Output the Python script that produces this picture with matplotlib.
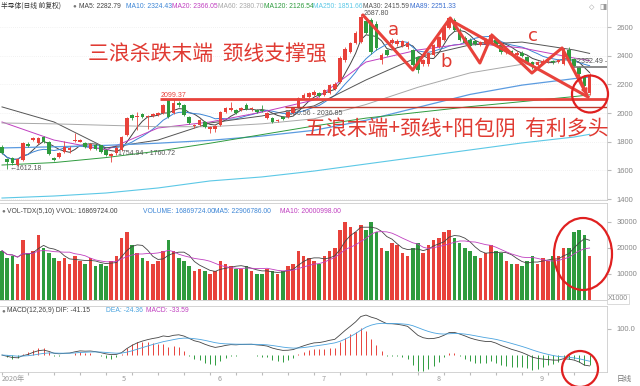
import matplotlib
matplotlib.use('Agg')
import matplotlib.pyplot as plt
from matplotlib.patches import Ellipse
import numpy as np
import pandas as pd

plt.rcParams['font.family'] = ['Liberation Sans', 'DejaVu Sans']
CJK = ['Noto Sans CJK SC', 'DejaVu Sans']

# daily candles, 2020-04 .. 2020-09
opens = [1764, 1680, 1687, 1640, 1673, 1785, 1812, 1791, 1833, 1798,
         1687, 1694, 1729, 1740, 1805, 1800, 1791, 1750, 1778, 1775,
         1743, 1700, 1720, 1740, 1847, 1987, 1970, 1994, 1973, 1980,
         1985, 2000, 2099, 2000, 2070, 2056, 1973, 1910, 1917, 1938,
         1889, 1890, 1917, 2007, 2021, 2021, 2021, 2056, 2025, 2021,
         2021, 1966, 1966, 1945, 1973, 1973, 2000, 2042, 2105, 2112,
         2126, 2140, 2126, 2140, 2165, 2217, 2370, 2426, 2488, 2495,
         2640, 2649, 2620, 2370, 2440, 2490, 2480, 2470, 2460, 2440,
         2390, 2340, 2340, 2405, 2460, 2509, 2593, 2649, 2580, 2525,
         2510, 2500, 2475, 2480, 2490, 2510, 2475, 2425, 2430, 2405,
         2420, 2390, 2355, 2335, 2345, 2360, 2365, 2358, 2340, 2440,
         2375, 2320, 2255, 2140]
closes = [1722, 1660, 1652, 1680, 1791, 1772, 1826, 1826, 1798, 1715,
          1673, 1722, 1764, 1760, 1810, 1812, 1764, 1785, 1750, 1729,
          1708, 1718, 1760, 1833, 1966, 1966, 1978, 1973, 1982, 1992,
          2000, 2056, 1973, 2070, 2056, 1987, 1931, 1917, 1952, 1903,
          1903, 1910, 2007, 2035, 2035, 2000, 2035, 2028, 2035, 2007,
          2018, 2000, 1938, 1955, 1960, 2007, 2035, 2105, 2126, 2140,
          2147, 2120, 2161, 2196, 2200, 2384, 2450, 2488, 2558, 2670,
          2560, 2426, 2454, 2405, 2405, 2509, 2505, 2500, 2490, 2335,
          2300, 2370, 2420, 2475, 2530, 2600, 2660, 2579, 2510, 2490,
          2470, 2485, 2495, 2510, 2545, 2475, 2425, 2435, 2415, 2420,
          2395, 2355, 2320, 2355, 2365, 2365, 2355, 2368, 2440, 2360,
          2330, 2270, 2190, 2262]
highs = [1775, 1690, 1695, 1688, 1800, 1795, 1835, 1832, 1840, 1805,
         1695, 1728, 1805, 1770, 1861, 1820, 1798, 1790, 1785, 1780,
         1750, 1725, 1768, 1840, 1975, 1995, 2010, 2000, 1990, 2000,
         2010, 2065, 2099, 2099, 2085, 2060, 1978, 1925, 1958, 1945,
         1910, 1915, 2012, 2040, 2077, 2028, 2042, 2070, 2042, 2030,
         2056, 2007, 1972, 1962, 1980, 2012, 2040, 2112, 2140, 2150,
         2160, 2150, 2170, 2205, 2215, 2395, 2460, 2495, 2570, 2688,
         2660, 2660, 2640, 2420, 2450, 2520, 2515, 2510, 2500, 2450,
         2395, 2380, 2425, 2480, 2540, 2610, 2670, 2660, 2590, 2535,
         2520, 2510, 2505, 2520, 2555, 2520, 2480, 2445, 2440, 2430,
         2430, 2398, 2360, 2365, 2375, 2375, 2372, 2380, 2455, 2460,
         2385, 2330, 2265, 2280]
lows = [1715, 1612, 1640, 1630, 1665, 1765, 1805, 1785, 1792, 1708,
        1665, 1688, 1722, 1720, 1798, 1795, 1760, 1745, 1745, 1725,
        1700, 1660, 1705, 1735, 1840, 1955, 1882, 1965, 1890, 1975,
        1978, 1995, 1965, 1995, 2045, 1980, 1925, 1895, 1910, 1898,
        1861, 1870, 1910, 2000, 2015, 1995, 2015, 2020, 2018, 2000,
        2010, 1960, 1932, 1940, 1955, 1968, 1995, 2035, 2098, 2105,
        2120, 2112, 2120, 2135, 2160, 2210, 2355, 2420, 2480, 2488,
        2550, 2415, 2440, 2340, 2395, 2480, 2470, 2460, 2450, 2325,
        2280, 2330, 2330, 2400, 2455, 2500, 2585, 2570, 2500, 2480,
        2460, 2475, 2465, 2470, 2485, 2465, 2415, 2415, 2405, 2395,
        2390, 2345, 2310, 2325, 2340, 2350, 2345, 2350, 2335, 2350,
        2320, 2260, 2175, 2125]
volumes = [19000, 16000, 17000, 14000, 23000, 18000, 19000, 25000, 20000, 18000,
           16000, 15000, 16000, 14000, 17000, 15000, 14000, 16000, 13000, 14000,
           13000, 15000, 17000, 24000, 26000, 21000, 18000, 16000, 15000, 14000,
           15000, 19000, 23000, 19000, 16000, 15000, 13000, 11000, 12000, 11000,
           10000, 11000, 15000, 14000, 13000, 12000, 12000, 13000, 11000, 10000,
           10000, 12000, 11000, 10000, 11000, 13000, 14000, 19000, 17000, 16000,
           15000, 14000, 17000, 19000, 20000, 27000, 30000, 28000, 26000, 29000,
           27000, 30000, 26000, 20000, 19000, 22000, 21000, 18000, 17000, 20000,
           22000, 18000, 21000, 23000, 24000, 26000, 27000, 24000, 22000, 20000,
           19000, 17000, 16000, 18000, 21000, 19000, 18000, 15000, 14000, 14000,
           13000, 15000, 17000, 14000, 16000, 15000, 17000, 17000, 20000, 20000,
           26000, 27000, 25000, 16870]

# longer moving averages, read every 10 bars
ma_idx = [0, 10, 20, 30, 40, 50, 60, 70, 80, 90, 100, 110, 113]
ma20 = [1938, 1812, 1743, 1896, 1938, 2007, 2091, 2356, 2440, 2488, 2454, 2384, 2366]
ma30 = [2043, 1938, 1757, 1812, 1931, 1980, 2050, 2231, 2391, 2475, 2495, 2440, 2416]
ma60 = [1931, 1925, 1915, 1905, 1905, 1925, 1960, 2060, 2180, 2280, 2340, 2375, 2381]
ma89 = [1757, 1765, 1775, 1790, 1810, 1840, 1880, 1950, 2040, 2130, 2195, 2240, 2251]
ma120 = [1638, 1655, 1690, 1735, 1790, 1850, 1910, 1965, 2005, 2045, 2080, 2115, 2127]
ma250 = [1408, 1422, 1443, 1478, 1527, 1555, 1596, 1645, 1694, 1743, 1792, 1833, 1852]

# hand drawn wave lines (bar index, price)
wave_idx = [69.4, 79.0, 86.2, 91.9, 94.2, 101.9, 107.7, 112.5]
wave_px = [2684, 2300, 2663, 2349, 2544, 2279, 2454, 2126]
trend_idx = [86.2, 112.7]
trend_px = [2649, 2112]

RED = '#e8423b'
GREEN = '#2e9b3e'
W, H = 640, 386


def fx(x):
    return x / W


def fy(y):
    return 1 - y / H


n = len(closes)
idx = np.arange(n)
o = np.array(opens, float)
c = np.array(closes, float)
up = c >= o
col = np.where(up, RED, GREEN)

fig = plt.figure(figsize=(6.4, 3.86), dpi=100)
xl = (-2 / 5.2, 605 / 5.2)

# ---------------- main price panel ----------------
ax = fig.add_axes([0, fy(200), fx(607), (200 - 0) / H])
ax.set_xlim(*xl)
ax.set_ylim(2788.2 - 6.97 * 200, 2788.2)
for yv in [1400, 1600, 1800, 2000, 2200, 2400, 2600]:
    ax.axhline(yv, color='#e6e6e6', lw=0.5, ls=(0, (1, 2)), zorder=0)

s = pd.Series(c)
ax.plot(idx, s.rolling(5, min_periods=1).mean(), color='#444444', lw=0.7)
ax.plot(idx, s.rolling(10, min_periods=1).mean(), color='#3d86d6', lw=0.7)
ax.plot(ma_idx, ma20, color='#c040c0', lw=0.7)
ax.plot(ma_idx, ma30, color='#555555', lw=0.7)
ax.plot(ma_idx, ma60, color='#a8a8a8', lw=0.7)
ax.plot(ma_idx, ma89, color='#5b9be0', lw=0.9)
ax.plot(ma_idx, ma120, color='#2e9b3e', lw=0.7)
ax.plot(ma_idx, ma250, color='#5cc8e6', lw=0.8)

ax.vlines(idx, lows, highs, colors=col, lw=0.6, zorder=3)
ax.bar(idx, np.maximum(np.abs(c - o), 3), bottom=np.minimum(o, c), width=0.68,
       color=col, zorder=4)

ax.hlines(2099.37, 30.4, xl[1], colors=RED, lw=2.0, zorder=5)
ax.hlines(2040, 54.5, xl[1], colors='#c0392b', lw=1.0, zorder=5)
ax.hlines(2322, 109.6, xl[1], colors='#777777', lw=1.2, zorder=5)
ax.plot(wave_idx, wave_px, color=RED, lw=2.2, zorder=6, solid_capstyle='round')
ax.plot(trend_idx, trend_px, color=RED, lw=2.2, zorder=6)
ax.annotate('', xy=(wave_idx[-1] + 0.2, wave_px[-1] - 20), xytext=(wave_idx[-2] + 3, wave_px[-2] - 170),
            arrowprops=dict(arrowstyle='-|>', color=RED, lw=1.5, mutation_scale=8), zorder=7)

ax.yaxis.tick_right()
ax.set_yticks([1400, 1600, 1800, 2000, 2200, 2400, 2600])
ax.tick_params(axis='y', labelsize=5.5, labelcolor='#888888', color='#bbbbbb', length=3, pad=4)
ax.set_xticks([])
for sp in ax.spines.values():
    sp.set_color('#cccccc')
    sp.set_linewidth(0.6)
ax.spines['top'].set_visible(False)
ax.spines['left'].set_visible(False)

ax.text(69.6, 2692, '2687.80', fontsize=5, color='#555555', va='center')
ax.text(30.5, 2125, '2099.37', fontsize=5, color=RED, va='center')
ax.text(1.5, 1612, '←1612.18', fontsize=5, color='#555555', va='center')
ax.text(22.3, 1720, '1754.94 - 1760.72', fontsize=5, color='#555555', va='center')
ax.text(54.5, 2000, '2030.56 - 2036.85', fontsize=5, color='#555555', va='center')
ax.text(110.5, 2360, '2392.49 -', fontsize=5, color='#555555', va='center', zorder=8)

# ---------------- volume panel ----------------
axv = fig.add_axes([0, fy(300), fx(607), (300 - 203) / H])
axv.set_xlim(*xl)
axv.set_ylim(0, 97 / 26.0 * 10000)
axv.bar(idx, volumes, width=0.68, color=col, zorder=3)
vs = pd.Series(volumes, dtype=float)
axv.plot(idx, vs.rolling(5, min_periods=1).mean(), color='#444444', lw=0.6, zorder=4)
axv.plot(idx, vs.rolling(10, min_periods=1).mean(), color='#c040c0', lw=0.6, zorder=4)
axv.yaxis.tick_right()
axv.set_yticks([10000, 20000, 30000])
axv.tick_params(axis='y', labelsize=5.5, labelcolor='#888888', color='#bbbbbb', length=3, pad=4)
axv.set_xticks([])
for sp in axv.spines.values():
    sp.set_color('#cccccc')
    sp.set_linewidth(0.6)
axv.spines['left'].set_visible(False)

# ---------------- MACD panel ----------------
ema12 = s.ewm(span=12, adjust=False).mean()
ema26 = s.ewm(span=26, adjust=False).mean()
dif = ema12 - ema26
dea = dif.ewm(span=9, adjust=False).mean()
hist = 2 * (dif - dea)

axm = fig.add_axes([0, fy(372), fx(607), (372 - 306) / H])
axm.set_xlim(*xl)
axm.set_ylim(-65, 188)
axm.vlines(idx, 0, hist, colors=np.where(hist >= 0, RED, GREEN), lw=0.7)
axm.plot(idx, dif, color='#444444', lw=0.6)
axm.plot(idx, dea, color='#4aa3df', lw=0.6)
axm.yaxis.tick_right()
axm.set_yticks([100])
axm.set_yticklabels(['100.0'])
axm.tick_params(axis='y', labelsize=5.5, labelcolor='#888888', color='#bbbbbb', length=3, pad=4)
axm.set_xticks(np.arange(0, n, 5))
axm.set_xticklabels([])
axm.tick_params(axis='x', length=2, color='#bbbbbb')
for sp in axm.spines.values():
    sp.set_color('#cccccc')
    sp.set_linewidth(0.6)
axm.spines['left'].set_visible(False)

# ---------------- text ----------------
fs = 4.9
fig.text(fx(1), fy(6), '半导体(日线 前复权)', fontsize=fs, color='#333333', family=CJK, va='center')
fig.text(fx(72), fy(6), '●', fontsize=4.5, color='#777777', va='center')
legend = [(79, 'MA5: 2282.79', '#444444'), (126, 'MA10: 2324.43', '#3d86d6'),
          (172, 'MA20: 2366.05', '#c040c0'), (218, 'MA60: 2380.70', '#a8a8a8'),
          (264, 'MA120: 2126.54', '#2e9b3e'), (313, 'MA250: 1851.66', '#5cc8e6'),
          (363, 'MA30: 2415.59', '#555555'), (410, 'MA89: 2251.33', '#3b6fd0')]
for xp, t, cl in legend:
    fig.text(fx(xp), fy(6), t, fontsize=fs, color=cl, va='center')
fig.text(fx(589), fy(7), '◇', fontsize=5, color='#999999', va='center', family='DejaVu Sans')
fig.text(fx(599), fy(7), '◨', fontsize=5.5, color='#999999', va='center', family='DejaVu Sans')

fig.text(fx(1), fy(211), '●', fontsize=4.5, color='#777777', va='center')
fig.text(fx(7), fy(211), 'VOL-TDX(5,10) VVOL: 16869724.00', fontsize=fs, color='#444444', va='center')
fig.text(fx(143), fy(211), 'VOLUME: 16869724.00', fontsize=fs, color='#3d86d6', va='center')
fig.text(fx(214), fy(211), 'MA5: 22906786.00', fontsize=fs, color='#3d86d6', va='center')
fig.text(fx(280), fy(211), 'MA10: 20000998.00', fontsize=fs, color='#c040c0', va='center')
fig.text(fx(608), fy(299), 'X1000', fontsize=5, color='#888888', va='center',
         bbox=dict(boxstyle='square,pad=0.15', fc='white', ec='#cccccc', lw=0.5))

fig.text(fx(1), fy(311), '●', fontsize=4.5, color='#777777', va='center')
fig.text(fx(7), fy(311), 'MACD(12,26,9) DIF: -41.15', fontsize=fs, color='#444444', va='center')
fig.text(fx(106), fy(311), 'DEA: -24.36', fontsize=fs, color='#4aa3df', va='center')
fig.text(fx(146), fy(311), 'MACD: -33.59', fontsize=fs, color='#c040c0', va='center')

for xp, t in [(2, '2020年'), (122, '5'), (218, '6'), (322, '7'), (437, '8'), (540, '9')]:
    fig.text(fx(xp), fy(379), t, fontsize=5.2, color='#999999', va='center', family=CJK)
fig.text(fx(617), fy(379), '日线', fontsize=5.5, color='#777777', va='center', family=CJK)

fig.text(fx(88), fy(55), '三浪杀跌末端  颈线支撑强', fontsize=15, color='#e03a32',
         family=CJK, va='center', weight='light')
fig.text(fx(305), fy(130), '五浪末端+颈线+阳包阴  有利多头', fontsize=15, color='#e03a32',
         family=CJK, va='center', weight='light')
fig.text(fx(388), fy(30), 'a', fontsize=13, color='#e03a32', va='center', family='DejaVu Sans')
fig.text(fx(440), fy(62), 'b', fontsize=13, color='#e03a32', va='center', family='DejaVu Sans')
fig.text(fx(528), fy(36), 'c', fontsize=13, color='#e03a32', va='center', family='DejaVu Sans')

# red circles drawn over the panels
ov = fig.add_axes([0, 0, 1, 1], facecolor='none')
ov.set_xlim(0, W)
ov.set_ylim(H, 0)
ov.axis('off')
ov.add_patch(Ellipse((590, 94), 36, 37, fill=False, ec='#e02020', lw=1.6))
ov.add_patch(Ellipse((583, 254), 58, 72, fill=False, ec='#e02020', lw=1.6))
ov.add_patch(Ellipse((580, 369), 36, 36, fill=False, ec='#e02020', lw=1.6))

fig.savefig('out.png', dpi=100)
